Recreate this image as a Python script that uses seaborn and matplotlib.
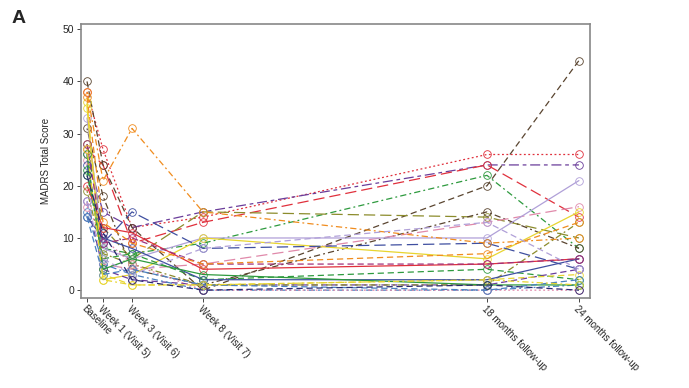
import numpy as np
import pandas as pd
import matplotlib
matplotlib.use("Agg")
import matplotlib.pyplot as plt
import seaborn as sns

# --- time points (x positions follow the spacing in the original figure) ---
TIMEPOINTS = ["Baseline", "Week 1 (Visit 5)", "Week 3 (Visit 6)",
              "Week 8 (Visit 7)", "18 months follow-up", "24 months follow-up"]
X_POS = [0, 16, 45, 116, 400, 492]

# --- MADRS total score per patient, one list per visit ---
BASELINE = [38, 26, 27, 22, 40, 28, 31, 25, 33, 35, 24, 38, 20, 23,
            17, 36, 19, 15, 16, 14, 28, 37, 26, 17, 14, 27, 22]
WEEK1 = [27, 15, 24, 8, 24, 12, 18, 5, 8, 2, 9, 21, 12, 6,
         4, 3, 7, 5, 10, 10, 9, 13, 4, 6, 3, 2, 11]
WEEK3 = [12, 12, 9, 7, 12, 6, 4, 4, 6, 3, 15, 31, 11, 7,
         2, 1, 5, 3, 5, 8, 10, 9, 6, 3, 4, 1, 2]
WEEK8 = [14, 15, 13, 9, 0, 15, 1, 5, 10, 10, 8, 15, 4, 2,
         1, 1, 1, 0, 0, 2, 5, 5, 3, 8, 1, 1, 0]
MONTH18 = [26, 24, 24, 22, 20, 14, 15, 13, 10, 6, 9, 9, 5, 4,
           1, 2, 1, 0, 0, 2, 5, 7, 1, 13, 0, 2, 1]
MONTH24 = [26, 24, 14, 8, 44, 10, 8, 16, 21, 15, 4, 10, 6, 2,
           4, 3, 13, 1, 0, 6, 6, 13, 1, 4, 2, 1, 0]

# --- per-patient colour and line type (R-like) ---
COLORS = ["#e0303c", "#6a3d9a", "#e0303c", "#2e9a3e", "#5a4530", "#8c8c2c",
          "#5a4530", "#e089aa", "#b0a0d8", "#e8d530", "#3f4fa0", "#f08c1e",
          "#e0303c", "#2e9a3e", "#6a3d9a", "#e8d530", "#8c8c2c", "#4a80c0",
          "#e089aa", "#3f4fa0", "#a0307a", "#f08c1e", "#2e9a3e", "#b0a0d8",
          "#4a80c0", "#e8d530", "#2a2a70"]
DASHES = {
    "solid": "",
    "dashed": (5, 3),
    "dotted": (1.5, 2),
    "dotdash": (1.5, 2.5, 5, 2.5),
    "longdash": (9, 4),
    "twodash": (3, 3, 8, 3),
}
LTY = ["dotted", "twodash", "longdash", "dotdash", "dashed", "longdash",
       "dotdash", "longdash", "solid", "solid", "longdash", "dotdash",
       "solid", "dashed", "dashed", "dashed", "dotdash", "dotdash",
       "dotted", "solid", "dashed", "dashed", "solid", "dashed",
       "dashed", "dotdash", "dashed"]

# long table for seaborn
rows = []
visits = [BASELINE, WEEK1, WEEK3, WEEK8, MONTH18, MONTH24]
for pid in range(len(BASELINE)):
    for xi, vals in zip(X_POS, visits):
        rows.append({"patient": f"P{pid + 1}", "x": xi, "score": vals[pid]})
df = pd.DataFrame(rows)

sns.set_theme(style="white")
plt.rcParams["font.family"] = ["Liberation Sans", "DejaVu Sans"]

fig = plt.figure(figsize=(6.89, 3.88), dpi=100)
ax = fig.add_axes([0.1176, 0.232, 0.7386, 0.706])

sns.lineplot(data=df, x="x", y="score", hue="patient", style="patient",
             palette=COLORS, dashes=[DASHES[l] for l in LTY],
             estimator=None, sort=True, legend=False, ax=ax,
             marker="o", markersize=5.5, linewidth=0.9)

# open circle markers in the line colour
for line in ax.lines:
    c = line.get_color()
    line.set_markerfacecolor("none")
    line.set_markeredgecolor(c)
    line.set_markeredgewidth(0.6)

ax.set_xlim(-6, 503)
ax.set_ylim(-1.5, 51)
ax.set_yticks([0, 10, 20, 30, 40, 50])
ax.set_xticks(X_POS)
ax.set_xticklabels(TIMEPOINTS, rotation=-45, ha="left", va="top",
                   rotation_mode="anchor", fontsize=7)
ax.tick_params(axis="y", labelsize=7.5, length=3, width=0.7, color="#444444",
               left=True, pad=2)
ax.tick_params(axis="x", length=3, width=0.7, color="#444444",
               bottom=True, pad=1)
ax.set_xlabel("")
ax.set_ylabel("MADRS Total Score", fontsize=7, labelpad=8)

for side in ["left", "right", "top", "bottom"]:
    ax.spines[side].set_visible(True)
    ax.spines[side].set_color("#888888")
    ax.spines[side].set_linewidth(1.2)

fig.text(0.017, 0.94, "A", fontsize=14, fontweight="bold")

fig.savefig("out.png", dpi=100)
